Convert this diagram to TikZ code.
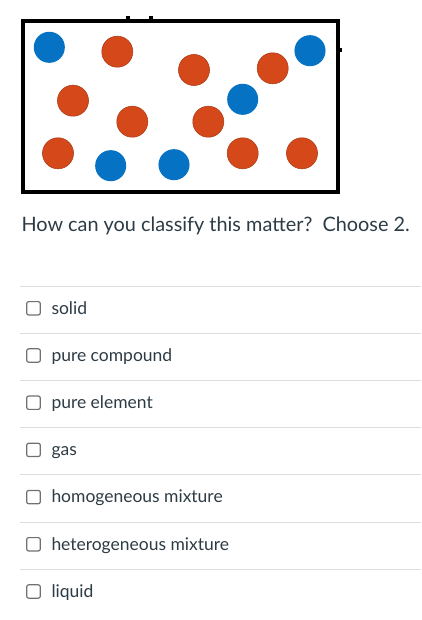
\documentclass[tikz,border=0pt]{standalone}
\usepackage{fontspec}
\setmainfont{Lato}
\definecolor{redDot}{RGB}{212,72,26}
\definecolor{blueDot}{RGB}{5,114,196}
\definecolor{inkText}{RGB}{45,59,69}
\definecolor{ruleGray}{RGB}{221,221,221}
\definecolor{boxGray}{RGB}{112,112,112}

\tikzset{every picture/.style={line width=0.75pt}}
\tikzset{
  redball/.style={circle,fill=redDot,draw=redDot!80!black,line width=0.4pt,minimum size=23.3pt,inner sep=0pt},
  blueball/.style={circle,fill=blueDot,draw=none,minimum size=23.3pt,inner sep=0pt},
  tickbox/.style={draw=boxGray,line width=0.9pt,rounded corners=1.5pt,minimum width=10.2pt,minimum height=10pt,inner sep=0pt},
  optlabel/.style={anchor=base west,inner sep=0pt,text=inkText,font=\fontsize{13.1}{15}\selectfont},
  sepline/.style={draw=ruleGray,line width=0.75pt}
}

\begin{document}
\begin{tikzpicture}[x=0.75pt,y=0.75pt,yscale=-1,xscale=1]
\useasboundingbox (0,0) rectangle (421,620);

%Shape: Rectangle [id:box]
\draw [line width=3pt] (22.5,21.5) rectangle (338.3,191.8);
%Straight Lines [id:ticks]
\draw [line width=2.5pt] (128,16) -- (128,21.5) (151,16) -- (151,21.5) (338.3,50) -- (341.5,50);

%Shape: Circle (blue)
\node [blueball] (b1) at (49.3,47.3) {};
\node [blueball] (b2) at (310,50.7) {};
\node [blueball] (b3) at (242.7,99.3) {};
\node [blueball] (b4) at (110.7,165.7) {};
\node [blueball] (b5) at (174,164.7) {};
%Shape: Circle (red)
\node [redball] (r1) at (117.3,51.7) {};
\node [redball] (r2) at (194,70) {};
\node [redball] (r3) at (272.7,68.3) {};
\node [redball] (r4) at (73,100.7) {};
\node [redball] (r5) at (132.3,121.7) {};
\node [redball] (r6) at (208.3,121.7) {};
\node [redball] (r7) at (58,153.3) {};
\node [redball] (r8) at (242.7,153.3) {};
\node [redball] (r9) at (302,153.3) {};

% Text Node
\node [anchor=base west,inner sep=0pt,text=inkText,font=\fontsize{14.9}{17}\selectfont] (question) at (21,231.7) {How can you classify this matter?\ \ Choose 2.};

%Straight Lines [id:rules]
\draw [sepline] (20,286) -- (421,286);
\draw [sepline] (20,333.2) -- (421,333.2);
\draw [sepline] (20,380.4) -- (421,380.4);
\draw [sepline] (20,427.6) -- (421,427.6);
\draw [sepline] (20,474.8) -- (421,474.8);
\draw [sepline] (20,522) -- (421,522);
\draw [sepline] (20,569.2) -- (421,569.2);

%Shape: Checkbox
\node [tickbox] (cb1) at (33.5,308.3) {};
\node [tickbox] (cb2) at (33.5,355.5) {};
\node [tickbox] (cb3) at (33.5,402.7) {};
\node [tickbox] (cb4) at (33.5,449.9) {};
\node [tickbox] (cb5) at (33.5,497.1) {};
\node [tickbox] (cb6) at (33.5,544.3) {};
\node [tickbox] (cb7) at (33.5,591.5) {};

% Text Node
\node [optlabel] (o1) at (51,314) {solid};
% Text Node
\node [optlabel] (o2) at (51,361.2) {pure compound};
% Text Node
\node [optlabel] (o3) at (51,408.4) {pure element};
% Text Node
\node [optlabel] (o4) at (51,455.6) {gas};
% Text Node
\node [optlabel] (o5) at (51,502.8) {homogeneous mixture};
% Text Node
\node [optlabel] (o6) at (51,550) {heterogeneous mixture};
% Text Node
\node [optlabel] (o7) at (51,597.2) {liquid};

\end{tikzpicture}
\end{document}
